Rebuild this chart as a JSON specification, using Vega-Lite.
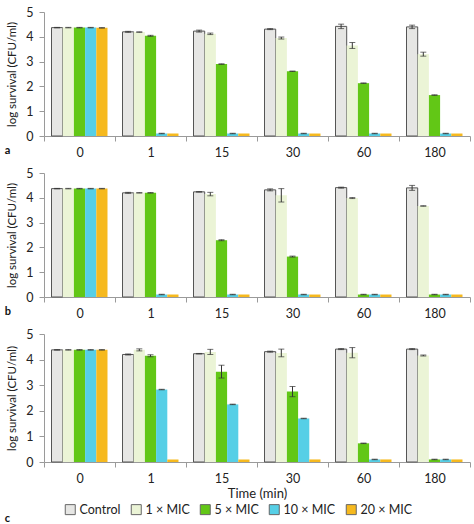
{
  "$schema": "https://vega.github.io/schema/vega-lite/v6.json",
  "description": "Log survival over time at several MIC multiples, three panels",
  "padding": {"left": 4, "top": 6, "right": 2, "bottom": 2},
  "background": "white",
  "data": {
    "values": [
      {"p": "a", "t": "0", "s": "Control", "v": 4.37, "e": 0.01},
      {"p": "a", "t": "0", "s": "1 × MIC", "v": 4.37, "e": 0.01},
      {"p": "a", "t": "0", "s": "5 × MIC", "v": 4.37, "e": 0.01},
      {"p": "a", "t": "0", "s": "10 × MIC", "v": 4.37, "e": 0.01},
      {"p": "a", "t": "0", "s": "20 × MIC", "v": 4.36, "e": 0.01},
      {"p": "a", "t": "1", "s": "Control", "v": 4.2, "e": 0.02},
      {"p": "a", "t": "1", "s": "1 × MIC", "v": 4.19, "e": 0.01},
      {"p": "a", "t": "1", "s": "5 × MIC", "v": 4.04, "e": 0.02},
      {"p": "a", "t": "1", "s": "10 × MIC", "v": 0.1, "e": 0.01},
      {"p": "a", "t": "1", "s": "20 × MIC", "v": 0.1, "e": 0},
      {"p": "a", "t": "15", "s": "Control", "v": 4.23, "e": 0.04},
      {"p": "a", "t": "15", "s": "1 × MIC", "v": 4.12, "e": 0.03},
      {"p": "a", "t": "15", "s": "5 × MIC", "v": 2.9, "e": 0.01},
      {"p": "a", "t": "15", "s": "10 × MIC", "v": 0.1, "e": 0.01},
      {"p": "a", "t": "15", "s": "20 × MIC", "v": 0.1, "e": 0},
      {"p": "a", "t": "30", "s": "Control", "v": 4.31, "e": 0.02},
      {"p": "a", "t": "30", "s": "1 × MIC", "v": 3.95, "e": 0.04},
      {"p": "a", "t": "30", "s": "5 × MIC", "v": 2.61, "e": 0.01},
      {"p": "a", "t": "30", "s": "10 × MIC", "v": 0.1, "e": 0.01},
      {"p": "a", "t": "30", "s": "20 × MIC", "v": 0.1, "e": 0},
      {"p": "a", "t": "60", "s": "Control", "v": 4.42, "e": 0.09},
      {"p": "a", "t": "60", "s": "1 × MIC", "v": 3.65, "e": 0.12},
      {"p": "a", "t": "60", "s": "5 × MIC", "v": 2.13, "e": 0.01},
      {"p": "a", "t": "60", "s": "10 × MIC", "v": 0.1, "e": 0.01},
      {"p": "a", "t": "60", "s": "20 × MIC", "v": 0.1, "e": 0},
      {"p": "a", "t": "180", "s": "Control", "v": 4.4, "e": 0.07},
      {"p": "a", "t": "180", "s": "1 × MIC", "v": 3.3, "e": 0.08},
      {"p": "a", "t": "180", "s": "5 × MIC", "v": 1.65, "e": 0.01},
      {"p": "a", "t": "180", "s": "10 × MIC", "v": 0.1, "e": 0.01},
      {"p": "a", "t": "180", "s": "20 × MIC", "v": 0.1, "e": 0},

      {"p": "b", "t": "0", "s": "Control", "v": 4.37, "e": 0.01},
      {"p": "b", "t": "0", "s": "1 × MIC", "v": 4.37, "e": 0.01},
      {"p": "b", "t": "0", "s": "5 × MIC", "v": 4.37, "e": 0.01},
      {"p": "b", "t": "0", "s": "10 × MIC", "v": 4.37, "e": 0.01},
      {"p": "b", "t": "0", "s": "20 × MIC", "v": 4.37, "e": 0.01},
      {"p": "b", "t": "1", "s": "Control", "v": 4.2, "e": 0.02},
      {"p": "b", "t": "1", "s": "1 × MIC", "v": 4.2, "e": 0.01},
      {"p": "b", "t": "1", "s": "5 × MIC", "v": 4.2, "e": 0.01},
      {"p": "b", "t": "1", "s": "10 × MIC", "v": 0.1, "e": 0.01},
      {"p": "b", "t": "1", "s": "20 × MIC", "v": 0.1, "e": 0},
      {"p": "b", "t": "15", "s": "Control", "v": 4.24, "e": 0.01},
      {"p": "b", "t": "15", "s": "1 × MIC", "v": 4.15, "e": 0.07},
      {"p": "b", "t": "15", "s": "5 × MIC", "v": 2.29, "e": 0.02},
      {"p": "b", "t": "15", "s": "10 × MIC", "v": 0.1, "e": 0.01},
      {"p": "b", "t": "15", "s": "20 × MIC", "v": 0.1, "e": 0},
      {"p": "b", "t": "30", "s": "Control", "v": 4.32, "e": 0.04},
      {"p": "b", "t": "30", "s": "1 × MIC", "v": 4.1, "e": 0.27},
      {"p": "b", "t": "30", "s": "5 × MIC", "v": 1.63, "e": 0.02},
      {"p": "b", "t": "30", "s": "10 × MIC", "v": 0.1, "e": 0.01},
      {"p": "b", "t": "30", "s": "20 × MIC", "v": 0.1, "e": 0},
      {"p": "b", "t": "60", "s": "Control", "v": 4.41, "e": 0.02},
      {"p": "b", "t": "60", "s": "1 × MIC", "v": 3.99, "e": 0.02},
      {"p": "b", "t": "60", "s": "5 × MIC", "v": 0.1, "e": 0.01},
      {"p": "b", "t": "60", "s": "10 × MIC", "v": 0.1, "e": 0.01},
      {"p": "b", "t": "60", "s": "20 × MIC", "v": 0.1, "e": 0},
      {"p": "b", "t": "180", "s": "Control", "v": 4.4, "e": 0.1},
      {"p": "b", "t": "180", "s": "1 × MIC", "v": 3.67, "e": 0.01},
      {"p": "b", "t": "180", "s": "5 × MIC", "v": 0.1, "e": 0.01},
      {"p": "b", "t": "180", "s": "10 × MIC", "v": 0.1, "e": 0.01},
      {"p": "b", "t": "180", "s": "20 × MIC", "v": 0.1, "e": 0},

      {"p": "c", "t": "0", "s": "Control", "v": 4.38, "e": 0.01},
      {"p": "c", "t": "0", "s": "1 × MIC", "v": 4.38, "e": 0.01},
      {"p": "c", "t": "0", "s": "5 × MIC", "v": 4.38, "e": 0.01},
      {"p": "c", "t": "0", "s": "10 × MIC", "v": 4.38, "e": 0.01},
      {"p": "c", "t": "0", "s": "20 × MIC", "v": 4.38, "e": 0.01},
      {"p": "c", "t": "1", "s": "Control", "v": 4.2, "e": 0.02},
      {"p": "c", "t": "1", "s": "1 × MIC", "v": 4.38, "e": 0.04},
      {"p": "c", "t": "1", "s": "5 × MIC", "v": 4.15, "e": 0.04},
      {"p": "c", "t": "1", "s": "10 × MIC", "v": 2.83, "e": 0.01},
      {"p": "c", "t": "1", "s": "20 × MIC", "v": 0.1, "e": 0},
      {"p": "c", "t": "15", "s": "Control", "v": 4.23, "e": 0.01},
      {"p": "c", "t": "15", "s": "1 × MIC", "v": 4.3, "e": 0.1},
      {"p": "c", "t": "15", "s": "5 × MIC", "v": 3.53, "e": 0.25},
      {"p": "c", "t": "15", "s": "10 × MIC", "v": 2.25, "e": 0.01},
      {"p": "c", "t": "15", "s": "20 × MIC", "v": 0.1, "e": 0},
      {"p": "c", "t": "30", "s": "Control", "v": 4.31, "e": 0.02},
      {"p": "c", "t": "30", "s": "1 × MIC", "v": 4.26, "e": 0.15},
      {"p": "c", "t": "30", "s": "5 × MIC", "v": 2.75, "e": 0.2},
      {"p": "c", "t": "30", "s": "10 × MIC", "v": 1.7, "e": 0.01},
      {"p": "c", "t": "30", "s": "20 × MIC", "v": 0.1, "e": 0},
      {"p": "c", "t": "60", "s": "Control", "v": 4.41, "e": 0.02},
      {"p": "c", "t": "60", "s": "1 × MIC", "v": 4.27, "e": 0.2},
      {"p": "c", "t": "60", "s": "5 × MIC", "v": 0.73, "e": 0.01},
      {"p": "c", "t": "60", "s": "10 × MIC", "v": 0.1, "e": 0.01},
      {"p": "c", "t": "60", "s": "20 × MIC", "v": 0.1, "e": 0},
      {"p": "c", "t": "180", "s": "Control", "v": 4.41, "e": 0.02},
      {"p": "c", "t": "180", "s": "1 × MIC", "v": 4.16, "e": 0.02},
      {"p": "c", "t": "180", "s": "5 × MIC", "v": 0.1, "e": 0.01},
      {"p": "c", "t": "180", "s": "10 × MIC", "v": 0.1, "e": 0.01},
      {"p": "c", "t": "180", "s": "20 × MIC", "v": 0.1, "e": 0}
    ]
  },
  "spacing": 8,
  "vconcat": [
    {
      "width": 426,
      "height": 124,
      "title": {"text": "a", "orient": "bottom", "anchor": "start", "frame": "bounds", "offset": -14, "dx": -2},
      "transform": [{"filter": "datum.p === 'a'"}],
      "encoding": {
        "x": {"field": "t", "type": "nominal", "sort": ["0", "1", "15", "30", "60", "180"], "scale": {"paddingInner": 0, "paddingOuter": 0}, "axis": {"title": null}},
        "xOffset": {"field": "s", "sort": ["Control", "1 × MIC", "5 × MIC", "10 × MIC", "20 × MIC"], "scale": {"paddingInner": 0, "paddingOuter": 0.67}}
      },
      "layer": [
        {
          "mark": {"type": "bar", "strokeWidth": 1},
          "encoding": {
            "y": {"field": "v", "type": "quantitative", "scale": {"domain": [0, 5]}, "axis": {"title": "log survival (CFU/ml)"}},
            "color": {
              "field": "s", "type": "nominal",
              "scale": {"domain": ["Control", "1 × MIC", "5 × MIC", "10 × MIC", "20 × MIC"], "range": ["#e6e6e4", "#ebf4d6", "#62c716", "#56cfe6", "#f6b91e"]},
              "legend": {"orient": "none", "direction": "horizontal", "legendX": 20, "legendY": 491, "title": null}
            },
            "stroke": {"condition": {"test": "datum.s === 'Control'", "value": "#555"}, "value": null}
          }
        },
        {
          "transform": [{"filter": "datum.e > 0"}],
          "mark": {"type": "errorbar", "ticks": {"size": 6}, "color": "#333"},
          "encoding": {
            "y": {"field": "v", "type": "quantitative", "title": "log survival (CFU/ml)"},
            "yError": {"field": "e"}
          }
        }
      ]
    },
    {
      "width": 426,
      "height": 124,
      "title": {"text": "b", "orient": "bottom", "anchor": "start", "frame": "bounds", "offset": -14, "dx": -2},
      "transform": [{"filter": "datum.p === 'b'"}],
      "encoding": {
        "x": {"field": "t", "type": "nominal", "sort": ["0", "1", "15", "30", "60", "180"], "scale": {"paddingInner": 0, "paddingOuter": 0}, "axis": {"title": null}},
        "xOffset": {"field": "s", "sort": ["Control", "1 × MIC", "5 × MIC", "10 × MIC", "20 × MIC"], "scale": {"paddingInner": 0, "paddingOuter": 0.67}}
      },
      "layer": [
        {
          "mark": {"type": "bar", "strokeWidth": 1},
          "encoding": {
            "y": {"field": "v", "type": "quantitative", "scale": {"domain": [0, 5]}, "axis": {"title": "log survival (CFU/ml)"}},
            "color": {
              "field": "s", "type": "nominal",
              "scale": {"domain": ["Control", "1 × MIC", "5 × MIC", "10 × MIC", "20 × MIC"], "range": ["#e6e6e4", "#ebf4d6", "#62c716", "#56cfe6", "#f6b91e"]},
              "legend": {"orient": "none", "direction": "horizontal", "legendX": 20, "legendY": 491, "title": null}
            },
            "stroke": {"condition": {"test": "datum.s === 'Control'", "value": "#555"}, "value": null}
          }
        },
        {
          "transform": [{"filter": "datum.e > 0"}],
          "mark": {"type": "errorbar", "ticks": {"size": 6}, "color": "#333"},
          "encoding": {
            "y": {"field": "v", "type": "quantitative", "title": "log survival (CFU/ml)"},
            "yError": {"field": "e"}
          }
        }
      ]
    },
    {
      "width": 426,
      "height": 128,
      "title": {"text": "c", "orient": "bottom", "anchor": "start", "frame": "bounds", "offset": 12, "dx": -2},
      "transform": [{"filter": "datum.p === 'c'"}],
      "encoding": {
        "x": {"field": "t", "type": "nominal", "sort": ["0", "1", "15", "30", "60", "180"], "scale": {"paddingInner": 0, "paddingOuter": 0}, "axis": {"title": "Time (min)"}},
        "xOffset": {"field": "s", "sort": ["Control", "1 × MIC", "5 × MIC", "10 × MIC", "20 × MIC"], "scale": {"paddingInner": 0, "paddingOuter": 0.67}}
      },
      "layer": [
        {
          "mark": {"type": "bar", "strokeWidth": 1},
          "encoding": {
            "y": {"field": "v", "type": "quantitative", "scale": {"domain": [0, 5]}, "axis": {"title": "log survival (CFU/ml)"}},
            "color": {
              "field": "s", "type": "nominal",
              "scale": {"domain": ["Control", "1 × MIC", "5 × MIC", "10 × MIC", "20 × MIC"], "range": ["#e6e6e4", "#ebf4d6", "#62c716", "#56cfe6", "#f6b91e"]},
              "legend": {"orient": "none", "direction": "horizontal", "legendX": 20, "legendY": 491, "title": null}
            },
            "stroke": {"condition": {"test": "datum.s === 'Control'", "value": "#555"}, "value": null}
          }
        },
        {
          "transform": [{"filter": "datum.e > 0"}],
          "mark": {"type": "errorbar", "ticks": {"size": 6}, "color": "#333"},
          "encoding": {
            "y": {"field": "v", "type": "quantitative", "title": "log survival (CFU/ml)"},
            "yError": {"field": "e"}
          }
        }
      ]
    }
  ],
  "resolve": {"scale": {"color": "shared"}},
  "config": {
    "font": "Lato",
    "view": {"stroke": null},
    "axis": {
      "grid": false,
      "domainColor": "#9a9a9a",
      "tickColor": "#9a9a9a",
      "tickSize": 5,
      "labelColor": "#222",
      "titleColor": "#222",
      "labelFontSize": 12.5,
      "titleFontWeight": "normal"
    },
    "axisX": {
      "labelAngle": 0,
      "tickBand": "extent",
      "labelPadding": 5,
      "titleFontSize": 13,
      "titlePadding": 3
    },
    "axisY": {
      "values": [0, 1, 2, 3, 4, 5],
      "titleFontSize": 11.5,
      "titlePadding": 8,
      "labelPadding": 6
    },
    "title": {"fontSize": 11, "fontWeight": "bold", "color": "#111"},
    "legend": {
      "symbolType": "square",
      "symbolSize": 100,
      "symbolStrokeColor": "#666",
      "symbolStrokeWidth": 1,
      "labelFontSize": 12.5,
      "labelColor": "#222",
      "columnPadding": 8,
      "labelOffset": 3
    }
  }
}
